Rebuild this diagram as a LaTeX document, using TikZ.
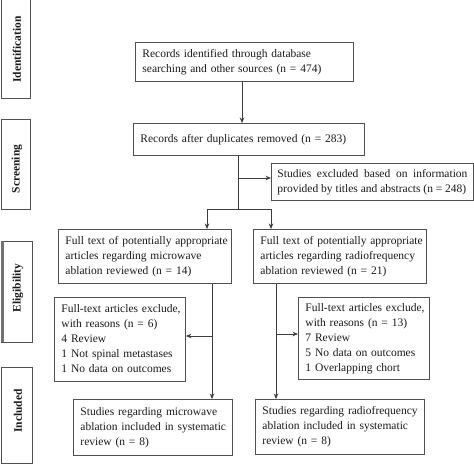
\documentclass[tikz,border=0pt]{standalone}
\usepackage{fontspec}
\setmainfont{Liberation Serif}
\usetikzlibrary{arrows.meta}
\definecolor{boxc}{HTML}{505050}
\definecolor{linec}{HTML}{3C3C3C}
\definecolor{txtc}{HTML}{1A1A1A}
\newcommand\boxlines[1]{\begin{tabular}{@{}l@{}}#1\end{tabular}}
\begin{document}
\begin{tikzpicture}[x=1pt,y=-1pt,
  flowbox/.style={draw=boxc, line width=0.9pt, inner xsep=7pt, inner ysep=2pt,
    align=left, anchor=north west, text=txtc,
    font=\fontsize{11.5}{15}\selectfont},
  stagebox/.style={draw=boxc, line width=0.9pt, fill=white, rotate=90, inner sep=0pt},
  stagetxt/.style={rotate=90, text=txtc, font=\fontsize{11.5}{13}\selectfont\bfseries},
  conn/.style={draw=linec, line width=0.8pt},
  arr/.style={conn, -{Stealth[length=5.5pt,width=4.5pt]}}]
\useasboundingbox (0,0) rectangle (474,467);
\fill[white] (0,0) rectangle (474,467);

% stage boxes
\node[stagebox, minimum width=101pt, minimum height=29pt] (sid) at (15.5,48) {};
\node[stagetxt] (tid) at (17,49.5) {Identification};
\node[stagebox, minimum width=90pt, minimum height=29pt] (ssc) at (15.5,164) {};
\node[stagetxt] (tsc) at (17,169) {Screening};
\node[stagebox, minimum width=101pt, minimum height=31pt] (sel) at (16.5,291.5) {};
\fill[boxc!80] (1,241) rectangle (4,342);
\node[stagetxt] (tel) at (18,288) {Eligibility};
\node[stagebox, minimum width=96pt, minimum height=31pt] (sin) at (16.5,415) {};
\node[stagetxt] (tin) at (18,411) {Included};

% flow boxes
\node[flowbox, text width=204pt, minimum height=39pt] (b1) at (135,42)
  {\boxlines{Records identified through database\\searching and other sources (n = 474)}};
\node[flowbox, text width=217pt, minimum height=32pt] (b2) at (133,123)
  {\boxlines{Records after duplicates removed (n = 283)}};
\node[flowbox, inner xsep=6pt, text width=190pt, minimum height=37pt, align=justify] (b3) at (271,163)
  {Studies excluded based on information\linebreak provided by titles and abstracts (n = 248)};
\node[flowbox, text width=159pt, minimum height=54pt] (b4) at (58,229)
  {\boxlines{Full text of potentially appropriate\\articles regarding microwave\\ablation reviewed (n = 14)}};
\node[flowbox, text width=159pt, minimum height=54pt] (b5) at (253,229)
  {\boxlines{Full text of potentially appropriate\\articles regarding radiofrequency\\ablation reviewed (n = 21)}};
\node[flowbox, text width=117pt, minimum height=84pt] (b6) at (54,297)
  {\boxlines{Full-text articles exclude,\\with reasons (n = 6)\\4 Review\\1 Not spinal metastases\\1 No data on outcomes}};
\node[flowbox, text width=117pt, minimum height=82pt] (b7) at (298,297)
  {\boxlines{Full-text articles exclude,\\with reasons (n = 13)\\7 Review\\5 No data on outcomes\\1 Overlapping chort}};
\node[flowbox, text width=145pt, minimum height=56pt] (b8) at (73,399)
  {\boxlines{Studies regarding microwave\\ablation included in systematic\\review (n = 8)}};
\node[flowbox, text width=155pt, minimum height=55pt] (b9) at (255,399)
  {\boxlines{Studies regarding radiofrequency\\ablation included in systematic\\review (n = 8)}};

% connectors
\coordinate (c1) at (242,0);
\draw[arr] (b1.south -| c1) -- (b2.north -| c1);
\coordinate (sp) at (238,209);
\coordinate (br) at (238,178);
\coordinate (sl) at (207,209);
\coordinate (sr) at (271,209);
\draw[conn] (b2.south -| sp) -- (sp);
\draw[arr] (br) -- (br -| b3.west);
\draw[arr] (sp) -- (sl) -- (sl |- b4.north);
\draw[arr] (sp) -- (sr) -- (sr |- b5.north);
\coordinate (ml) at (212,336);
\coordinate (mr) at (276,334);
\draw[arr] (b4.south -| ml) -- (b8.north -| ml);
\draw[arr] (ml) -- (ml -| b6.east);
\draw[arr] (b5.south -| mr) -- (b9.north -| mr);
\draw[arr] (mr) -- (mr -| b7.west);
\end{tikzpicture}
\end{document}
